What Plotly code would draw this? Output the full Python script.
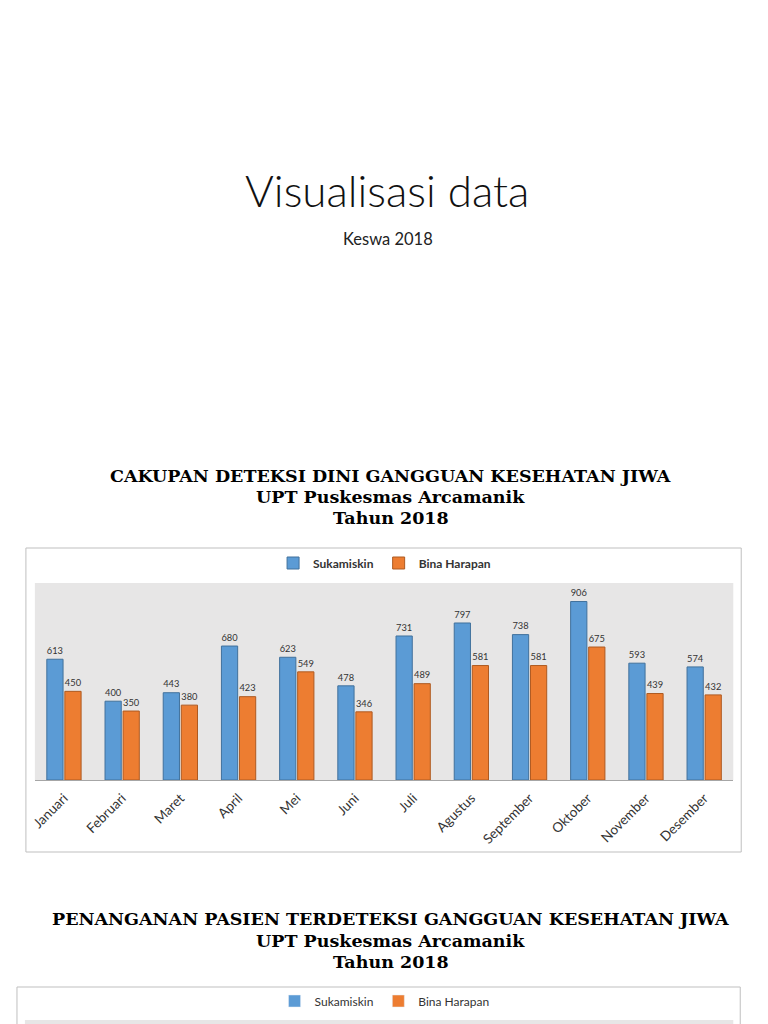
import plotly.graph_objects as go

## DATA
months = ['Januari', 'Februari', 'Maret', 'April', 'Mei', 'Juni', 'Juli',
          'Agustus', 'September', 'Oktober', 'November', 'Desember']
sukamiskin = [613, 400, 443, 680, 623, 478, 731, 797, 738, 906, 593, 574]
bina_harapan = [450, 350, 380, 423, 549, 346, 489, 581, 581, 675, 439, 432]

series_names = ['Sukamiskin', 'Bina Harapan']
blue = '#5B9BD5'
orange = '#ED7D31'

title1 = ['CAKUPAN DETEKSI DINI GANGGUAN KESEHATAN JIWA',
          'UPT Puskesmas Arcamanik', 'Tahun 2018']
title2 = ['PENANGANAN PASIEN TERDETEKSI GANGGUAN KESEHATAN JIWA',
          'UPT Puskesmas Arcamanik', 'Tahun 2018']

W, H = 768, 1024
OFF = 8  # page body margin of the html output


def px_y(y):  # pixel row on the screenshot -> paper coordinate
    return 1 - (y - OFF) / H


def px_x(x):
    return (x - OFF) / W


fig = go.Figure()

## CHART 1
fig.add_trace(go.Bar(x=months, y=sukamiskin, name=series_names[0],
                     marker=dict(color=blue, line=dict(color='#41719C', width=1)),
                     text=sukamiskin, textposition='outside', cliponaxis=False,
                     textfont=dict(size=12, color='#333333'),
                     xaxis='x', yaxis='y', legend='legend'))
fig.add_trace(go.Bar(x=months, y=bina_harapan, name=series_names[1],
                     marker=dict(color=orange, line=dict(color='#AE5A21', width=1)),
                     text=bina_harapan, textposition='outside', cliponaxis=False,
                     textfont=dict(size=12, color='#333333'),
                     xaxis='x', yaxis='y', legend='legend'))

## CHART 2 (cut off by the page, only its legend shows)
fig.add_trace(go.Bar(x=[None], y=[None], name=series_names[0], marker=dict(color=blue),
                     xaxis='x2', yaxis='y2', legend='legend2', showlegend=True))
fig.add_trace(go.Bar(x=[None], y=[None], name=series_names[1], marker=dict(color=orange),
                     xaxis='x2', yaxis='y2', legend='legend2', showlegend=True))

fig.update_layout(
    width=W, height=H,
    margin=dict(l=0, r=0, t=0, b=0),
    paper_bgcolor='white',
    plot_bgcolor='#E7E6E6',
    font=dict(family='Lato', color='#404040', size=11),
    barmode='group', bargap=0.38, bargroupgap=0.1,
    showlegend=True,
    xaxis=dict(domain=[px_x(30), px_x(733)], anchor='y', tickangle=-45,
               showline=True, linecolor='#A6A6A6', ticks='', ticklabelstandoff=4,
               tickfont=dict(size=13.5, color='#333333')),
    yaxis=dict(domain=[px_y(780), px_y(583)], anchor='x', range=[0, 1000],
               showgrid=False, showticklabels=False, zeroline=False),
    xaxis2=dict(domain=[px_x(20), px_x(733)], anchor='y2', visible=False),
    yaxis2=dict(domain=[0, px_y(1020)], anchor='x2', visible=False, range=[0, 1]),
    legend=dict(orientation='h', x=px_x(382), xanchor='center', y=px_y(563), yanchor='middle',
                font=dict(size=12, color='#333333', weight='bold'), itemwidth=30,
                bgcolor='rgba(0,0,0,0)'),
    legend2=dict(orientation='h', x=px_x(382), xanchor='center', y=px_y(1001), yanchor='middle',
                 font=dict(size=12, color='#333333'), itemwidth=30,
                 bgcolor='rgba(0,0,0,0)'),
)

fig.add_shape(type='rect', xref='paper', yref='paper',
              x0=px_x(21), x1=px_x(741), y0=px_y(852), y1=px_y(548),
              line=dict(color='#BFBFBF', width=1), layer='below')
fig.add_shape(type='rect', xref='paper', yref='paper',
              x0=px_x(12), x1=px_x(740), y0=px_y(1040), y1=px_y(987),
              line=dict(color='#BFBFBF', width=1), layer='below')

## SLIDE TEXT
fig.add_annotation(text='Visualisasi data', xref='paper', yref='paper',
                   x=px_x(384), y=px_y(190), yanchor='middle', showarrow=False,
                   font=dict(family='Lato', size=44, color='#111111', weight=300))
fig.add_annotation(text='Keswa 2018', xref='paper', yref='paper',
                   x=px_x(385), y=px_y(239), yanchor='middle', showarrow=False,
                   font=dict(family='Lato', size=16.5, color='#222222'))

for i, line in enumerate(title1):
    fig.add_annotation(text='<b>' + line + '</b>', xref='paper', yref='paper',
                       x=px_x(388), y=px_y(476 + 21 * i), yanchor='middle', showarrow=False,
                       font=dict(family='DejaVu Serif', size=17.5, color='black'))
for i, line in enumerate(title2):
    fig.add_annotation(text='<b>' + line + '</b>', xref='paper', yref='paper',
                       x=px_x(388), y=px_y(919 + 21.5 * i), yanchor='middle', showarrow=False,
                       font=dict(family='DejaVu Serif', size=17.5, color='black'))

fig.write_html("out.html")
